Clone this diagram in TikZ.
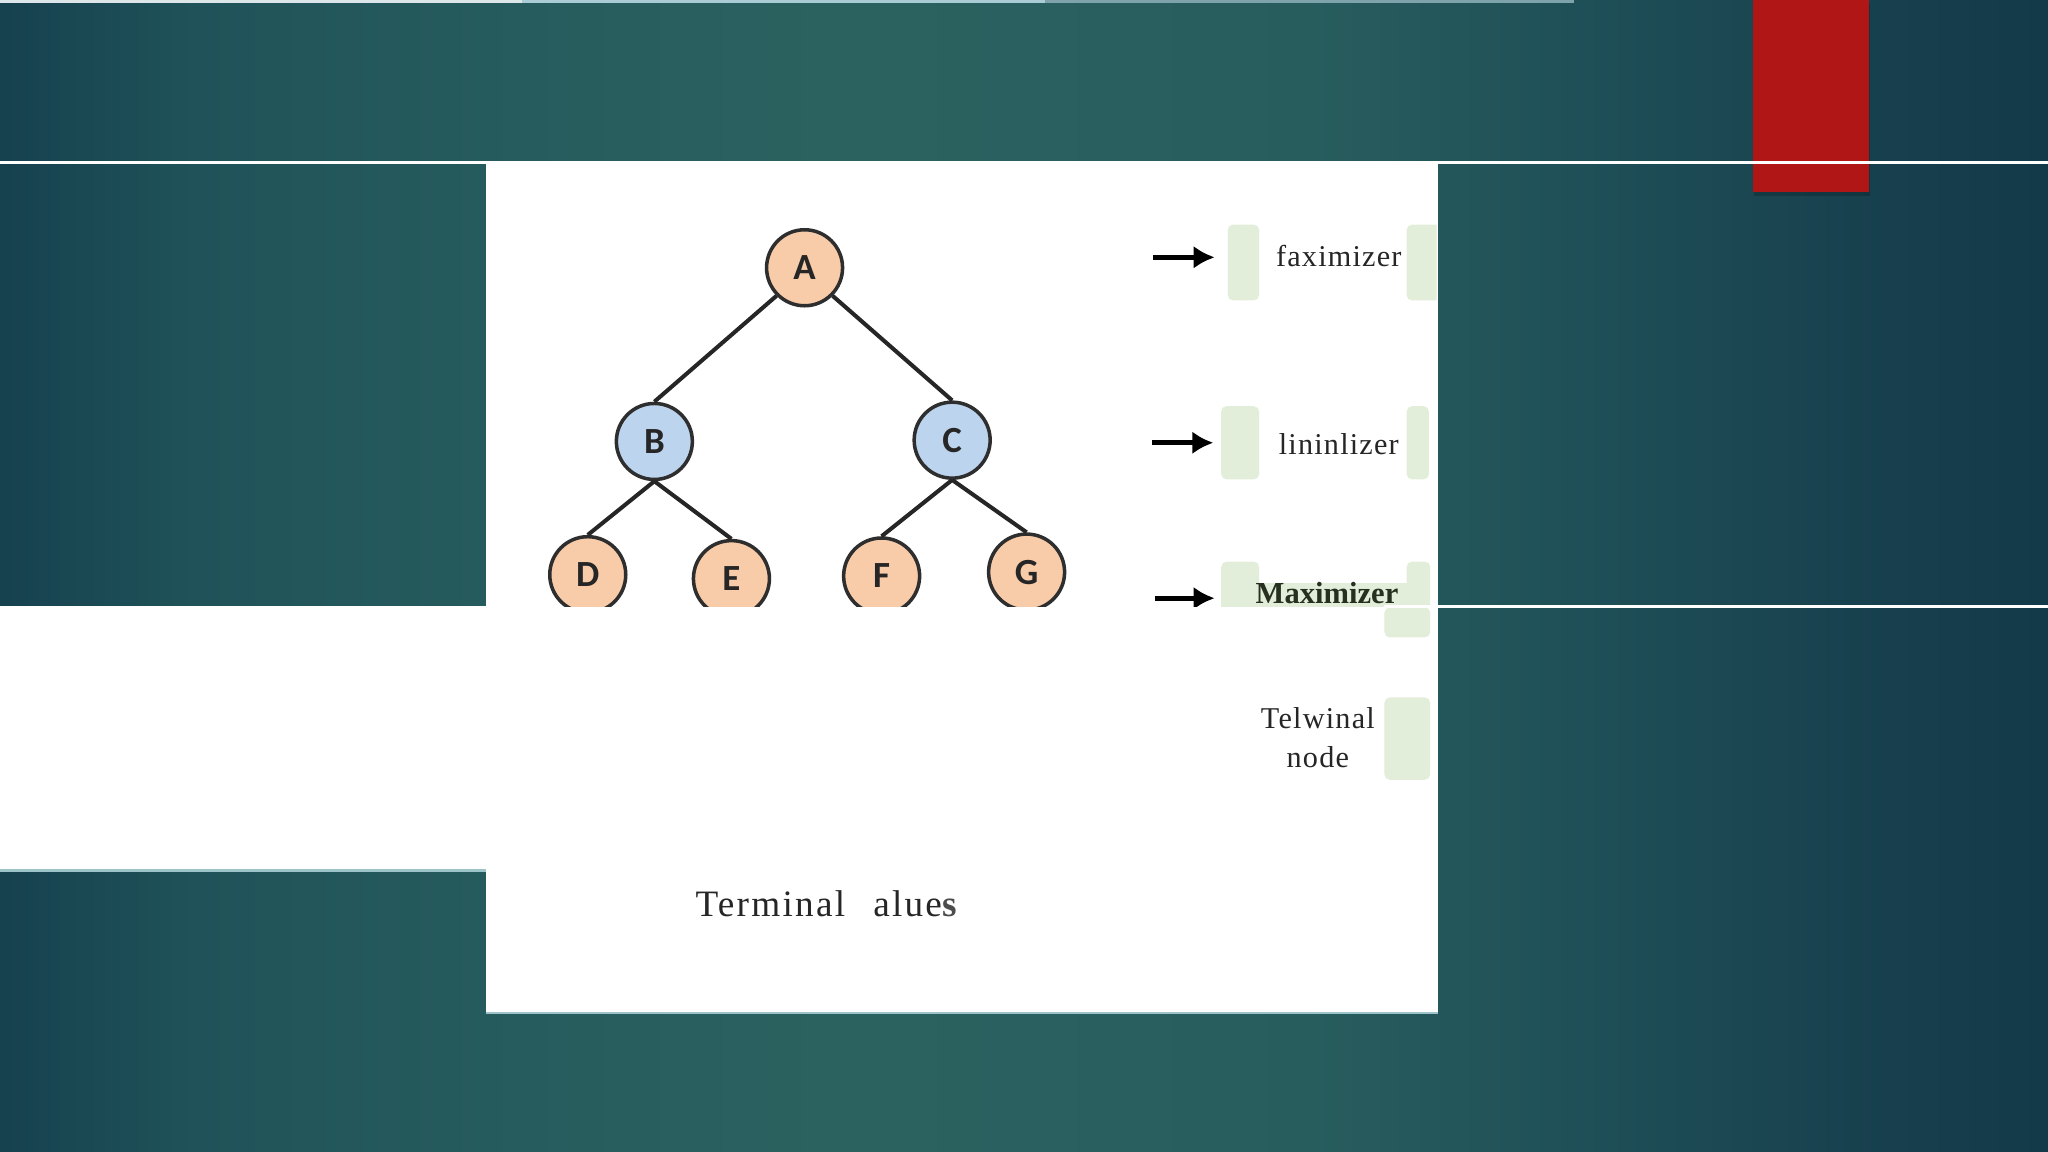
\documentclass[tikz,border=0pt]{standalone}
\usepackage{fontspec}
\setmainfont{Liberation Serif}
\newfontfamily\nodefont{Carlito}
\newfontfamily\spacedfont[LetterSpace=4]{Liberation Serif}
\newfontfamily\widefont[LetterSpace=6]{Liberation Serif}
\usetikzlibrary{arrows.meta}
\definecolor{peach}{HTML}{F8CBA9}
\definecolor{lblue}{HTML}{BCD4EE}
\definecolor{ink}{HTML}{2E2E2E}
\definecolor{palegreen}{HTML}{E3EEDA}
\definecolor{barred}{HTML}{B01616}
\definecolor{topA}{HTML}{DDE6E8}
\definecolor{topB}{HTML}{A9CCD5}
\definecolor{topC}{HTML}{7FA3AA}
\definecolor{edgeline}{HTML}{9CC3C8}
\definecolor{maxink}{HTML}{27301F}
\pgfdeclarehorizontalshading{bgsh}{100bp}{%
  rgb(0bp)=(0.086,0.255,0.310);
  rgb(25bp)=(0.086,0.255,0.310);
  rgb(29.8bp)=(0.122,0.325,0.349);
  rgb(37.8bp)=(0.153,0.361,0.369);
  rgb(45.7bp)=(0.169,0.384,0.373);
  rgb(56.9bp)=(0.157,0.365,0.369);
  rgb(63.3bp)=(0.122,0.314,0.345);
  rgb(71.2bp)=(0.090,0.247,0.302);
  rgb(75bp)=(0.075,0.227,0.286);
  rgb(100bp)=(0.075,0.227,0.286)}
\begin{document}
\begin{tikzpicture}[x=0.0130612cm,y=-0.0130612cm,
  tnode/.style={circle,draw=ink,line width=1pt,minimum size=0.76cm,inner sep=0pt,
    font=\nodefont\bfseries\fontsize{10.5}{11}\selectfont,text=black!85},
  leafnode/.style={tnode,fill=peach},
  midnode/.style={tnode,fill=lblue},
  treeline/.style={draw=black!85,line width=1.15pt},
  arr/.style={line width=1.5pt,black,-{Latex[length=6pt,width=6.5pt]}},
  palebox/.style={fill=palegreen,rounded corners=1.5pt},
  lbl/.style={font=\spacedfont\fontsize{8.6}{11}\selectfont,text=black!85,inner sep=0pt}]
\useasboundingbox (0,0) rectangle (1568,882);
% background
\shade[shading=bgsh] (0,0) rectangle (1568,882);
% top border segments
\fill[topA] (0,0) rectangle (400,2);
\fill[topB] (400,0) rectangle (800,2);
\fill[topC] (800,0) rectangle (1205,2);
% white areas
\fill[white] (372,124) rectangle (1101,775);
\fill[white] (0,464) rectangle (372,666);
\draw[edgeline,line width=0.6pt] (0,666.5) -- (372,666.5);
\draw[edgeline,line width=0.6pt] (372,775.5) -- (1101,775.5);
% clipped upper part
\begin{scope}
\clip (372,124) rectangle (1100,464);
\node[leafnode] (A) at (616,205) {A};
\node[midnode] (B) at (501,338) {B};
\node[midnode] (C) at (729,337) {C};
\node[leafnode] (D) at (450,440) {D};
\node[leafnode] (E) at (560,443) {E};
\node[leafnode] (F) at (675,441) {F};
\node[leafnode] (G) at (786,438) {G};
\draw[treeline] (A.south west) -- (B.north);
\draw[treeline] (A.south east) -- (C.north);
\draw[treeline] (B.south) -- (D.north);
\draw[treeline] (B.south) -- (E.north);
\draw[treeline] (C.south) -- (F.north);
\draw[treeline] (C.south) -- (G.north);
% green pieces
\fill[palebox] (940,172) rectangle (964,230);
\fill[palebox] (1077,172) rectangle (1104,230);
\fill[palebox] (935,311) rectangle (964,367);
\fill[palebox] (1077,311) rectangle (1094,367);
\fill[palebox] (935,430) rectangle (964,470);
\fill[palebox] (1077,430) rectangle (1095,470);
\fill[palegreen] (960,446) rectangle (1080,470);
% arrows
\coordinate (a1s) at (883,197); \coordinate (a1e) at (930,197);
\coordinate (a2s) at (882,339); \coordinate (a2e) at (929,339);
\coordinate (a3s) at (884,458); \coordinate (a3e) at (930,458);
\draw[arr] (a1s) -- (a1e);
\draw[arr] (a2s) -- (a2e);
\draw[arr] (a3s) -- (a3e);
\node[lbl] (fax) at (1025,196) {faximizer};
\node[lbl] (lin) at (1025,340) {lininlizer};
\node[font=\bfseries\fontsize{8.7}{10}\selectfont,text=maxink,inner sep=0pt,anchor=base] (max) at (1016,462) {Maximizer};
\end{scope}
% lower pieces
\fill[palebox] (1060,465) rectangle (1095,488);
\fill[palebox] (1060,534) rectangle (1095,597);
\node[lbl,align=center] (tel) at (1009,565) {Telwinal\\node};
\node[font=\widefont\fontsize{10.6}{12}\selectfont,text=black!85,inner sep=0pt,anchor=base west] (term) at (532,702)
  {Terminal\hspace{8pt}alue{\bfseries\color{black!70}s}};
% red bar
\fill[black,opacity=0.18] (1343,2) rectangle (1432,150);
\fill[barred] (1342,0) rectangle (1431,147);
% thin lines
\draw[white,line width=0.7pt] (0,124.5) -- (1568,124.5);
\draw[white,line width=0.7pt] (1060,464.5) -- (1568,464.5);
\end{tikzpicture}
\end{document}
